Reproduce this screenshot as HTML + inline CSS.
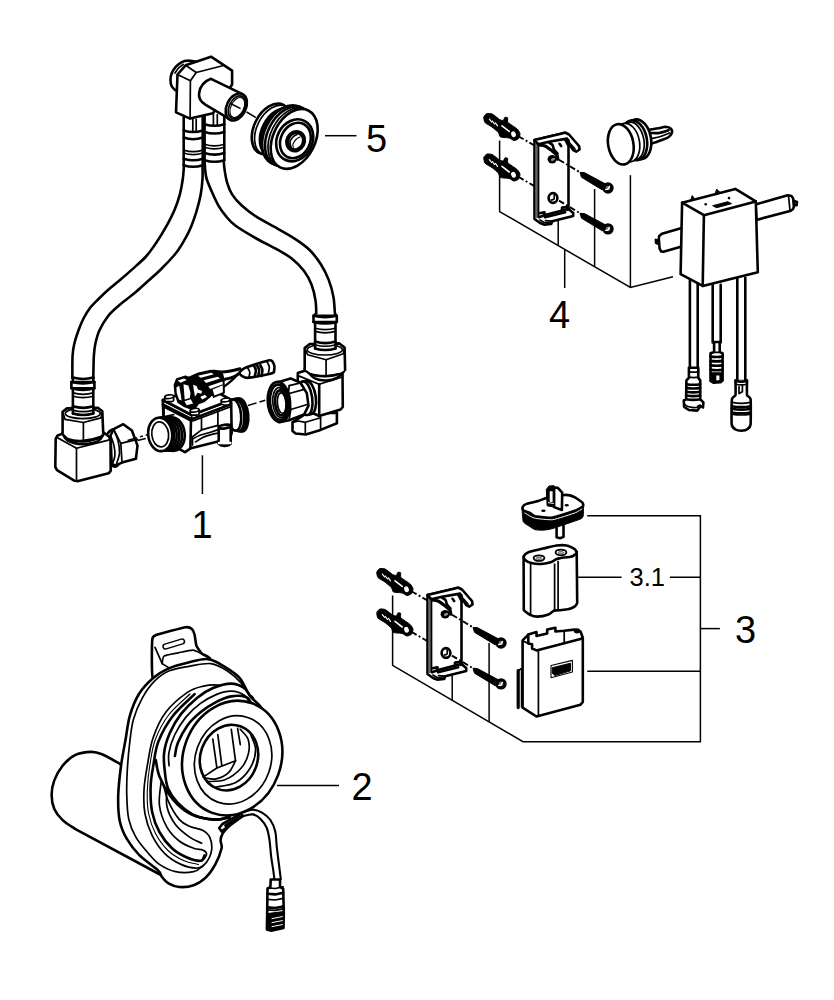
<!DOCTYPE html>
<html><head><meta charset="utf-8"><title>Exploded parts drawing</title>
<style>
html,body{margin:0;padding:0;background:#fff;}
svg{display:block;}
.k{fill:none;stroke:#000;stroke-width:1.7;stroke-linecap:round;stroke-linejoin:round;}
.w{fill:#fff;stroke:#000;stroke-width:1.7;stroke-linecap:round;stroke-linejoin:round;}
.t{fill:none;stroke:#000;stroke-width:1.1;stroke-linecap:round;stroke-linejoin:round;}
.tw{fill:#fff;stroke:#000;stroke-width:1.1;stroke-linecap:round;stroke-linejoin:round;}
.l{fill:none;stroke:#000;stroke-width:1.5;stroke-linecap:butt;}
.b{fill:#000;stroke:#000;stroke-width:1;stroke-linejoin:round;}
.h{fill:none;stroke:#000;stroke-width:2.6;stroke-linecap:round;stroke-linejoin:round;}
.hw{fill:#fff;stroke:#000;stroke-width:2.6;stroke-linecap:round;stroke-linejoin:round;}
.d{fill:none;stroke:#000;stroke-width:1.3;stroke-dasharray:9 3 2 3;}
text{font-family:"Liberation Sans",Arial,sans-serif;fill:#000;}
</style></head><body>
<svg width="834" height="1000" viewBox="0 0 834 1000">
<rect x="0" y="0" width="834" height="1000" fill="#fff"/>
<!-- 00_labels.svg -->
<g id="labels">
<text x="366" y="151.5" font-size="38">5</text>
<text x="549" y="328" font-size="38">4</text>
<text x="191.5" y="538" font-size="38">1</text>
<text x="351.5" y="799.5" font-size="38">2</text>
<text x="735" y="643" font-size="38">3</text>
<text x="629.5" y="586" font-size="25.5">3.1</text>
<path class="l" d="M325 135.7H356.5"/>
<path class="l" d="M202.4 455.3V494"/>
<path class="l" d="M277 785.6H339"/>
<!-- group 4 leaders -->
<path class="l" d="M499.6 140.5V211.6L630.4 287.5L673 276.7"/>
<path class="l" d="M558.2 220.5V245.6"/>
<path class="l" d="M594.6 189V266.8"/>
<path class="l" d="M630.4 175.2V287.5"/>
<path class="l" d="M564.7 249.5V288"/>
<!-- group 3 leaders -->
<path class="l" d="M392.6 595.5V665.4L523 741.7H700.4V515.8H587.2"/>
<path class="l" d="M452.2 675.5V700.5"/>
<path class="l" d="M489.1 643V721.8"/>
<path class="l" d="M578.2 577.2H621.6M669.9 577.2H700.4"/>
<path class="l" d="M587.2 671.2H700.4"/>
<path class="l" d="M700.4 628.6H719.9"/>
</g>

<!-- 10_elbow.py -->
<g>
<path class="h" d="M223.6 160C223.8 161.8 224.1 166.8 224.7 170.6C225.3 174.4 225.9 178.6 227.1 182.6C228.3 186.6 229.7 190.6 232.1 194.4C234.5 198.2 237.6 201.7 241.5 205.3C245.4 208.9 249.5 212.3 255.5 216.2C261.5 220.1 270.6 224.7 277.4 228.6C284.2 232.5 290.7 235.9 296.1 239.6C301.6 243.2 306 246.3 310.1 250.5C314.2 254.7 317.9 259.6 321 264.5C324.1 269.4 326.7 274.7 328.8 280.1C330.9 285.6 332.5 291.3 333.5 297.2C334.5 303.1 334.8 312.4 335 315.4"/>
<path class="h" d="M204.6 160C204.7 161.7 204.8 166.8 205.2 170C205.5 173.2 205.6 175.5 206.7 179C207.8 182.5 209.6 186.6 211.5 191C213.4 195.4 215.9 201.2 218.3 205.4C220.7 209.6 223.1 212.8 225.9 216.2C228.7 219.5 230.4 221.9 235.3 225.5C240.2 229.1 248.5 234 255.5 238C262.5 242 271.4 246.3 277.4 249.7C283.4 253.1 287 254.8 291.4 258.3C295.8 261.8 300.5 266.3 303.9 270.7C307.3 275.1 309.7 279.9 311.6 284.8C313.5 289.8 314.7 295.3 315.5 300.4C316.3 305.5 316.2 312.9 316.3 315.4"/>
<path class="h" d="M184 165C183.8 167.3 183.5 174.1 182.8 179C182.1 183.9 181.2 189.4 179.8 194.6C178.4 199.8 176.7 204.8 174.4 210.2C172.1 215.6 169 221.5 166 226.9C163 232.3 159.7 237.6 156.4 242.5C153.1 247.4 150.1 252 146 256.5C141.9 261 136.2 265.7 131.9 269.6C127.6 273.5 124 276.6 120 280C116 283.4 111.6 286.8 108 290C104.4 293.2 101.5 296 98.5 299C95.5 302 92.5 304.8 90 308C87.5 311.2 85.4 314.8 83.5 318.5C81.6 322.2 80.1 325.9 78.6 330C77.1 334.1 75.5 338.8 74.5 343C73.5 347.2 72.9 349.5 72.6 355.3C72.2 361.1 72.4 374.2 72.4 378"/>
<path class="h" d="M202.5 165C202.5 167.3 202.8 174.1 202.5 179C202.2 183.9 201.7 189.2 200.7 194.6C199.7 200 198.3 205.6 196.5 211.4C194.7 217.2 192.5 223.7 190 229.3C187.5 234.9 184.2 240.6 181.6 244.9C179 249.2 178 250.8 174.4 255C170.8 259.2 164.4 265.9 160 270.2C155.6 274.5 151.9 277.5 148 281C144.1 284.5 140.2 288.2 136.7 291.2C133.2 294.2 130.2 296.4 127 299C123.8 301.6 120.8 303.8 117.6 306.7C114.4 309.6 111 312.4 108 316.3C105 320.2 101.7 325.6 99.6 330C97.5 334.4 96.5 338.8 95.5 343C94.5 347.2 94.3 349.5 93.9 355.3C93.5 361.1 93.4 374.2 93.3 378"/>
<path class="w" d="M183.7 117.5 L183.7 165.2 L202.7 165.2 L202.7 117.5Z" style="stroke:none"/>
<path class="h" d="M183.7 117.5V165.2M202.7 117.5V165.2"/>
<path class="h" d="M183.7 130.4Q193.2 133.6 202.7 130.4"/>
<path class="h" d="M183.7 137.6Q193.2 140.8 202.7 137.6"/>
<path class="k" d="M183.7 150.1Q193.2 153.3 202.7 150.1"/>
<path class="k" d="M183.7 153Q193.2 156.2 202.7 153"/>
<path class="h" d="M183.7 158.7Q193.2 161.9 202.7 158.7"/>
<path class="h" d="M183.7 165.2Q193.2 168.4 202.7 165.2"/>
<path class="k" d="M192.8 119.4V131"/>
<path class="k" d="M196.2 119.4V131"/>
<path class="w" d="M204.6 113 L204.6 160.2 L224.3 160.2 L224.3 113Z" style="stroke:none"/>
<path class="h" d="M204.6 113V160.2M224.3 113V160.2"/>
<path class="h" d="M204.6 124.2Q214.4 127.4 224.3 124.2"/>
<path class="h" d="M204.6 131.9Q214.4 135.1 224.3 131.9"/>
<path class="k" d="M204.6 144.3Q214.4 147.5 224.3 144.3"/>
<path class="k" d="M204.6 147.2Q214.4 150.4 224.3 147.2"/>
<path class="h" d="M204.6 153Q214.4 156.2 224.3 153"/>
<path class="h" d="M204.6 160.2Q214.4 163.4 224.3 160.2"/>
<path class="k" d="M213.4 114.6V125"/>
<path class="k" d="M217.3 114.6V125"/>
<path class="h" d="M195.7 61.5C194.4 61.4 190.1 60.5 187.7 60.6C185.4 60.6 183.8 61 181.8 62.1C179.8 63.1 177.4 65 175.7 66.9C174 68.8 172.5 71.2 171.6 73.4C170.7 75.6 170.5 77.8 170.5 79.9C170.5 82 170.8 84.3 171.6 86C172.4 87.7 174.6 89.5 175.2 90.2"/>
<path class="k" d="M183.2 64.4C182.4 65 179.8 66.8 178.4 68.2C177.1 69.7 175.6 72.2 175 73"/>
<path class="hw" d="M185.6 65.3 L211 56.7 L232.1 70.6 L232.1 84.5 L213 113.3 L190.1 118.6 L176 112.4 L177.5 74.5Z"/>
<path class="k" d="M185.6 65.3 L196.2 72.5 L222.6 65.8"/>
<path class="k" d="M177.5 74.5 L190.4 80.7 L196.2 72.5"/>
<path class="k" d="M190.4 80.7 L190.1 118.6"/>
<path class="hw" d="M211 78.8L241.5 93.6L228.5 118.3L205.3 104.7Q198.1 99.9 199.1 93.2Q200.5 82.6 211 78.8Z"/>
<ellipse class="hw" cx="236.3" cy="107" rx="9.6" ry="14.2" transform="rotate(26.4 236.3 107)"/>
<ellipse class="k" cx="236.8" cy="107.2" rx="7.6" ry="12" transform="rotate(26.4 236.8 107.2)"/>
<ellipse class="t" cx="237.3" cy="107.5" rx="6.4" ry="10.6" transform="rotate(26.4 237.3 107.5)"/>
<path class="l" d="M230.5 103.5L240.6 108.6M246.6 112L255.9 117.6"/>
</g>
<!-- 11_nut5.py -->
<g>
<ellipse class="hw" cx="271.5" cy="129" rx="17.5" ry="27" transform="rotate(26.4 271.5 129)"/>
<ellipse class="k" cx="274" cy="130.2" rx="17.2" ry="26.6" transform="rotate(26.4 274 130.2)"/>
<ellipse class="hw" cx="278" cy="132" rx="16" ry="25" transform="rotate(26.4 278 132)"/>
<ellipse class="hw" cx="280.5" cy="133" rx="17" ry="27" transform="rotate(26.4 280.5 133)"/>
<ellipse class="hw" cx="285.5" cy="135" rx="21" ry="31.5" transform="rotate(26.4 285.5 135)"/>
<ellipse class="hw" cx="288.5" cy="136.3" rx="21" ry="31.7" transform="rotate(26.4 288.5 136.3)"/>
<ellipse class="k" cx="291.5" cy="137.6" rx="21" ry="31.7" transform="rotate(26.4 291.5 137.6)"/>
<ellipse class="hw" cx="294.2" cy="138.9" rx="21" ry="31.7" transform="rotate(26.4 294.2 138.9)"/>
<ellipse class="h" cx="294.7" cy="140.3" rx="17.7" ry="21.7" transform="rotate(26.4 294.7 140.3)"/>
<ellipse class="h" cx="295.4" cy="140.5" rx="14.6" ry="18.4" transform="rotate(26.4 295.4 140.5)"/>
<ellipse cx="295.6" cy="141.2" rx="8.2" ry="9.4" transform="rotate(26.4 295.6 141.2)" fill="#fff" stroke="#000" stroke-width="4.2"/>
<path class="k" d="M291 147C290.8 146.2 289.7 143.7 290 142C290.3 140.3 291.8 138.2 293 137C294.2 135.8 296.3 134.9 297 134.5"/>
<path class="t" d="M293.5 148.5C293.4 147.8 292.6 145.5 293 144C293.4 142.5 294.8 140.7 296 139.5C297.2 138.3 299.3 137.4 300 137"/>
</g>
<!-- 20_lelbow.py -->
<g>
<path class="hw" d="M107.9 433C106.4 434.8 104.7 437.2 104.2 440.5C103.6 443.9 103.8 449.1 104.8 453.1C105.9 457.1 108.4 462.4 110.5 464.5C112.6 466.6 115.7 467.6 117.4 465.7C119.1 463.8 120.2 457.3 120.5 453.1C120.9 448.9 120.4 444.4 119.3 440.5C118.1 436.7 115.5 431.1 113.6 429.8C111.7 428.6 109.5 431.2 107.9 433Z"/>
<path class="hw" d="M113.6 429.2 L123.3 424.2 L131.9 430.5 L137.5 445.6 L135.9 458.8 L122 462.6 L115.5 465.7 L111.7 463.8 L110.5 435.5Z"/>
<path class="k" d="M113.6 429.2 L120.8 443.3 L137.5 439.3"/>
<path class="k" d="M120.8 443.3 L122 462.6"/>
<path class="k" d="M113.6 429.8C114.3 431.6 117 436.7 118 440.5C119 444.4 119.8 449 119.5 453.1C119.2 457.2 116.7 463.1 116.1 465.1"/>
<path class="k" d="M110.5 435.5C111.1 437.2 113.3 442.2 114 445.6C114.7 448.9 115.1 452.6 114.9 455.6C114.6 458.7 112.8 462.5 112.4 463.8"/>
<path class="hw" d="M55.7 438.6 L57.6 435.5 L62.6 433.6 L104.2 433 L109.2 436.8 L110.5 440.5 L110.7 470.8 L108.6 473.3 L78.4 481.1 L74.6 480.8 L57 470.1 L55.3 467Z"/>
<path class="k" d="M57 437.4 L76.5 448.3 L109.5 439.9"/>
<path class="k" d="M76.5 448.3 L76.5 480.6"/>
<path class="h" d="M62.6 433.6C63.5 434.8 64.3 438.8 67.7 440.5C71 442.3 77.7 444 82.8 444.1C87.8 444.2 94.4 442.9 97.9 441.2C101.4 439.4 102.9 434.9 103.9 433.6"/>
<path class="k" d="M65.1 435.5C66 436.2 67.2 438.5 70.2 439.5C73.1 440.6 78.4 441.8 82.8 441.8C87.2 441.8 93.5 440.4 96.6 439.3C99.8 438.1 100.8 435.6 101.7 434.9"/>
<path class="hw" d="M62.6 433C63.6 434 64.8 438 68.3 439.3C71.8 440.6 78 441.2 83.4 440.8C88.7 440.4 97.1 438.4 100.4 437C103.7 435.6 102.7 433.1 103.2 432.4"/>
<path class="w" d="M62.6 411.8 L67 408.4 L97.9 407.8 L102.3 411.3 L103.2 432.4 L100.4 435.5 L83.4 438.6 L68.3 437.4 L62.6 433Z" style="stroke:none"/>
<path class="h" d="M62.6 433 L62.6 411.8 L67 408.4 L97.9 407.8 L102.3 411.3 L103.2 432.4"/>
<path class="k" d="M62.6 411.8 L65.1 419.4 L83.4 422.5 L101 417.9 L102.3 411.3"/>
<path class="k" d="M83.4 422.5 L83.4 440.5"/>
<ellipse class="k" cx="82.8" cy="413.5" rx="17.5" ry="5.2"/>
<path class="w" d="M72.9 377.6 L72.9 413.5 L93.3 413.5 L93.3 377.6Z" style="stroke:none"/>
<path class="h" d="M72.9 377.6 L72.9 413.5M93.3 413.5 L93.3 377.6"/>
<path class="h" d="M72.9 413.5Q83.1 416.6 93.3 413.5"/>
<path class="k" d="M72.9 410.1Q83.1 413.2 93.3 410.1"/>
<path class="h" d="M72.9 406.3Q83.1 409.4 93.3 406.3"/>
<path class="k" d="M72.9 396.2Q83.1 399 93.3 396.2"/>
<path class="k" d="M72.9 392.9Q83.1 395.7 93.3 392.9"/>
<path class="hw" d="M71.4 382 L71.4 388.3 L94.4 388.3 L94.4 382Z"/>
<path class="h" d="M71.4 388.3Q82.9 391.4 94.4 388.3"/>
<path class="h" d="M71.4 382Q82.9 384.8 94.4 382"/>
<path class="h" d="M72.9 377.6Q83.1 380.4 93.3 377.6"/>
<path class="l" d="M137.5 440.5L145.7 438.4"/>
</g>
<!-- 30_valve.py -->
<g>
<path class="l" d="M127.5 440.5 L160 431" stroke-dasharray="10 3 3 3"/>
<path class="l" d="M248 405.5 L271 398.5" stroke-dasharray="9 3 6 3"/>
<ellipse class="hw" cx="240.7" cy="415" rx="7.5" ry="16.5" transform="rotate(-6 240.7 415)"/>
<ellipse class="hw" cx="238.9" cy="415" rx="7.5" ry="16.5" transform="rotate(-6 238.9 415)"/>
<ellipse class="hw" cx="237.1" cy="415" rx="7.2" ry="16.2" transform="rotate(-6 237.1 415)"/>
<ellipse class="hw" cx="234.4" cy="415" rx="6.7" ry="15.7" transform="rotate(-6 234.4 415)"/>
<path class="hw" d="M162.8 400 L191.7 415 L231.1 400 L231.7 432.9 L229.9 438.9 L217.9 441.6 L191 448.2 L185 452.1 L179.3 449.1 L179.3 444.9 L164 432.9Z"/>
<path class="hw" d="M162.8 400 L205.9 385.7 L231.1 400 L191.7 415Z"/>
<path class="h" d="M162.8 404.5 L191.7 419.1 L231.1 404.2"/>
<path class="k" d="M191.7 415 L191.7 419.1"/>
<path class="h" d="M191 419.1 L190.4 447.9"/>
<path class="k" d="M201.5 416.8 L201.5 429.9 L192.5 436.7 L192.5 444.9"/>
<path class="k" d="M201.5 429.9 L217.9 425.4 L217.9 410.8"/>
<path class="k" d="M192.8 438.9C194 438.3 197 436.3 200 435.2C202.9 434.1 207.4 433.1 210.4 432.2C213.4 431.3 216.7 430.3 217.9 429.9"/>
<path class="k" d="M195.5 441.9C196.7 441.2 200.2 438.7 202.9 437.4C205.7 436.2 209.4 435.1 211.9 434.4C214.4 433.7 216.9 433.4 217.9 433.2"/>
<path class="k" d="M164 405.2 L164 432.9"/>
<path class="h" d="M164 406.7 L190.2 420.2"/>
<path class="k" d="M192.8 420.9 L230.7 406.7"/>
<path class="hw" d="M218.7 443.4C219.2 443.8 220.2 445.2 221.7 445.5C223.2 445.9 226.2 445.9 227.7 445.5C229.2 445.2 230.2 443.8 230.7 443.4"/>
<path class="hw" d="M218.7 426.6 L218.7 443.4 L230.7 443.4 L230.7 426.6"/>
<path class="w" d="M219 443.1 L230.4 443.1" style="stroke:#fff;stroke-width:2.5"/>
<ellipse class="hw" cx="224.7" cy="426.6" rx="6" ry="1.8" transform="rotate(-8 224.7 426.6)"/>
<path class="w" d="M164.8 396.7v3.2a4.4 1.8 0 0 0 8.8 0v-3.2"/>
<ellipse class="w" cx="169.2" cy="396.7" rx="4.4" ry="1.8" transform="rotate(-8 169.2 396.7)"/>
<path class="w" d="M190.3 410.2v3.2a4.4 1.8 0 0 0 8.8 0v-3.2"/>
<ellipse class="w" cx="194.7" cy="410.2" rx="4.4" ry="1.8" transform="rotate(-8 194.7 410.2)"/>
<path class="w" d="M221.3 400v3.2a4.4 1.8 0 0 0 8.8 0v-3.2"/>
<ellipse class="w" cx="225.7" cy="400" rx="4.4" ry="1.8" transform="rotate(-8 225.7 400)"/>
<path class="w" d="M160.2 417.6 L172.7 415 L172.7 450.9 L162.5 451.2Z" style="stroke:none"/>
<ellipse class="hw" cx="172.7" cy="434.1" rx="12" ry="16.8" transform="rotate(-6 172.7 434.1)"/>
<ellipse class="hw" cx="170.3" cy="434.1" rx="11.7" ry="16.5" transform="rotate(-6 170.3 434.1)"/>
<ellipse class="hw" cx="167.6" cy="434.1" rx="11.7" ry="16.5" transform="rotate(-6 167.6 434.1)"/>
<ellipse class="hw" cx="165" cy="434.1" rx="11.7" ry="16.5" transform="rotate(-6 165 434.1)"/>
<ellipse class="hw" cx="162.5" cy="434.1" rx="11.7" ry="16.5" transform="rotate(-6 162.5 434.1)"/>
<ellipse class="hw" cx="160.2" cy="434.4" rx="12" ry="16.8" transform="rotate(-6 160.2 434.4)"/>
<ellipse class="k" cx="160.2" cy="434.4" rx="8.4" ry="12.6" transform="rotate(-6 160.2 434.4)"/>
<path class="k" d="M160.2 417.6 L173.7 414.7"/>
<path class="k" d="M162.5 451.2 L175.2 450"/>
<path class="b" d="M174.4 385.1 L176.8 378.9 L185.4 376.3 L188.8 377.5 L198.4 373.2 L210.8 370.6 L222.4 374.1 L223.8 379.4 L224.1 392.8 L213.7 397.1 L212.3 393.8 L209.9 396.7 L204.1 401.5 L198.4 403.4 L195.5 407.2 L191.7 409.1 L184 406.2 L178.2 402.4 L175.3 393.8Z" style="stroke-width:1.6"/>
<path class="w" d="M197.9 375.7 L211.3 372.7 L213.9 374.2 L200.8 377.7Z" style="stroke:none"/>
<path class="w" d="M203.6 380.3 L217.6 376.7 L220.2 378.6 L206 382.9Z" style="stroke:none"/>
<path class="w" d="M208.4 386.3 L222.4 381.5 L222.8 384.2 L210.1 389Z" style="stroke:none"/>
<path class="w" d="M212.6 389.5 L222.8 385.3 L222.8 392.3 L214.5 395.5Z" style="stroke:none"/>
<path class="w" d="M177.7 380.5 L184 378.4 L186.7 380 L180.6 382.8Z" style="stroke:none"/>
<path class="w" d="M183.5 384.2 L188.3 385.6 L190.5 392.8 L189.9 398.1 L184.7 399.5 L184 390.9Z" style="stroke:none"/>
<path class="w" d="M184.5 401.3 L190.7 399.3 L193.1 403.4 L186.7 405.3Z" style="stroke:none"/>
<path class="w" d="M176.5 387.3 L179.2 385.7 L180.6 393.8 L181.6 400.5 L179 399.5 L176.7 392.8Z" style="stroke:none"/>
<path class="w" d="M193.1 384.7 L196.6 385.9 L198 389.5 L202.2 391.1 L201.2 393.8 L197.6 392.8 L195 396.7 L193.8 390.1Z" style="stroke:none"/>
<path class="w" d="M200.3 396.7 L205.1 394.7 L207 397.1 L202.2 399.5Z" style="stroke:none"/>
<path class="k" d="M213.7 371.1C215 371.3 218.8 371.9 221.4 371.9C223.9 371.9 226 371.8 229.1 371.3C232.2 370.8 238.2 369.3 240 368.8" style="stroke-width:3"/>
<path class="k" d="M223.8 379.4C224.7 379.2 227.2 378.9 229.1 378.4C230.9 377.9 233 377.3 234.8 376.3C236.6 375.3 239.1 373.1 240 372.5" style="stroke-width:3"/>
<path class="k" d="M224.1 386.6C224.9 385.9 227.1 384.4 229.1 382.7C231 381.1 234 378.2 235.8 376.5C237.6 374.8 239.3 373.2 240 372.5" style="stroke-width:2.4"/>
<path class="hw" d="M239.7 372.2C240.3 371.2 243.7 368.4 247.2 367C250.7 365.6 266.6 360.6 269.7 360.2C272.8 359.9 273.2 362.8 273.8 364C274.3 365.1 274.4 368.9 274.2 370C274 371.1 274.9 372.4 272 373.3C269 374.2 252.2 377.5 248.7 377.8C245.2 378.1 243 376.6 242 376C240.9 375.3 239.1 373.3 239.7 372.2Z"/>
<path class="k" d="M247.2 367C247.6 367.9 249.5 370.4 249.8 372.2C250 374 248.9 376.8 248.7 377.8"/>
<path class="h" d="M253.7 365.2C254 366 255.6 368.2 255.8 370C256 371.8 255 375 254.9 376"/>
<path class="h" d="M257 365.2C257.3 366 258.9 368.2 259.1 370C259.3 371.8 258.3 375 258.2 376"/>
<path class="h" d="M260.3 365.2C260.6 366 262.2 368.2 262.4 370C262.6 371.8 261.6 375 261.5 376"/>
<path class="k" d="M266.7 361C267.1 362 269 364.8 269.3 367C269.5 369.1 268.4 372.7 268.2 373.9"/>
</g>
<!-- 40_relbow.py -->
<g>
<path class="hw" d="M292.5 422.3 L292.5 431 L295.6 433.5 L305.8 434.5 L320.6 429.9 L336.9 423.3 L336.9 412.6 L305.8 413.6Z"/>
<path class="k" d="M292.5 422.3 L298.6 421 L305.3 422.3 L320.6 417.7"/>
<path class="k" d="M305.3 422.3 L305.3 434"/>
<path class="k" d="M320.6 417.7 L320.6 429.9"/>
<path class="hw" d="M297.8 373 L304.7 370.7 L342.5 373.6 L342.8 407 L340.6 409.5 L319.2 416 L310.4 412 L297.8 380.5Z"/>
<path class="k" d="M299.3 376.1 L319.2 384.3 L342.5 377"/>
<path class="h" d="M319.2 384.3 L319.2 416"/>
<ellipse class="hw" cx="308.5" cy="397.5" rx="7.3" ry="17" transform="rotate(-8 308.5 397.5)"/>
<ellipse class="hw" cx="305.3" cy="398.2" rx="6.9" ry="17" transform="rotate(-8 305.3 398.2)"/>
<path class="hw" d="M278.9 382 L290.5 378.4 L300.5 382.8 L306.8 393.1 L308.5 405.7 L304.1 414.5 L289 420.2 L278.9 422.1Z"/>
<path class="k" d="M288.3 393.8 L303.4 389.6"/>
<path class="k" d="M289.2 385.6 L300.5 382.8"/>
<path class="k" d="M290.8 409.5 L307.2 404.5"/>
<path class="k" d="M288.3 393.8 L290.8 409.5 L289 420.2"/>
<path class="k" d="M289.2 385.6 L288.3 393.8"/>
<ellipse class="hw" cx="278.9" cy="401.9" rx="11.1" ry="20.1" transform="rotate(-5 278.9 401.9)"/>
<ellipse class="h" cx="279.1" cy="402.2" rx="9.1" ry="17.6" transform="rotate(-5 279.1 402.2)"/>
<ellipse class="k" cx="280.1" cy="402.6" rx="7.3" ry="15.1" transform="rotate(-5 280.1 402.6)"/>
<ellipse class="h" cx="280.9" cy="402.9" rx="5.8" ry="12.6" transform="rotate(-5 280.9 402.9)"/>
<ellipse class="k" cx="281.7" cy="403.2" rx="4.3" ry="10.3" transform="rotate(-5 281.7 403.2)"/>
<path class="hw" d="M308.5 372.4C309.6 373.4 312.5 377.3 315.4 378.6C318.3 380 322.5 380.6 326.1 380.5C329.7 380.4 333.9 379.5 336.8 378C339.7 376.6 342.6 372.8 343.7 371.7"/>
<path class="hw" d="M304.7 368.6C305.6 369.5 306.8 372.7 310.4 374C313.9 375.3 321.1 376.2 326.1 376.1C331.1 376.1 337.4 374.7 340.6 373.6C343.7 372.6 344.2 370.5 345 369.8"/>
<path class="w" d="M304.7 348.1 L309.7 344 L339.3 343.4 L344.6 347.6 L345.1 369.8 L340.6 372.4 L326.1 374.5 L310.4 372.7 L304.7 369Z" style="stroke:none"/>
<path class="h" d="M304.7 369 L304.7 348.1 L309.7 344 L339.3 343.4 L344.6 347.6 L345.1 369.8"/>
<path class="k" d="M304.7 348.1 L307.6 354.7 L326.1 359.8 L343.3 353.8 L344.6 347.6"/>
<path class="k" d="M326.1 359.8 L326.1 375.8"/>
<ellipse class="k" cx="324.8" cy="349.7" rx="17.6" ry="5.3"/>
<path class="w" d="M315.1 314.4 L315.1 348.4 L335.5 348.4 L335.5 314.4Z" style="stroke:none"/>
<path class="h" d="M315.1 314.4 L315.1 348.4M335.5 348.4 L335.5 314.4"/>
<path class="h" d="M315.1 348.4Q325.3 351.6 335.5 348.4"/>
<path class="k" d="M315.1 344.7Q325.3 347.8 335.5 344.7"/>
<path class="h" d="M315.1 341.5Q325.3 344.7 335.5 341.5"/>
<path class="k" d="M315.1 331.4Q325.3 334.2 335.5 331.4"/>
<path class="k" d="M315.1 328.3Q325.3 331.1 335.5 328.3"/>
<path class="hw" d="M313.5 315.7 L313.5 322 L336.8 322 L336.8 315.7Z"/>
<path class="h" d="M313.5 322Q325.2 325.1 336.8 322"/>
<path class="h" d="M313.5 315.7Q325.2 318.5 336.8 315.7"/>
</g>
<!-- 50_bracket.py -->
<g>
<path class="b" d="M483.8 117C484 116.1 486.1 113.9 486.9 113.6C487.8 113.3 491.1 113.5 492.3 114.1C493.6 114.7 498.4 118.8 499.5 119.5C500.6 120.1 502.7 120.6 503.3 120.4C503.8 120.1 504.5 117.6 504.9 117.3C505.4 117.1 507.4 117.3 507.7 117.8C508 118.3 507 121.3 507.9 122.4C508.9 123.5 515.9 127.8 517.1 128.9C518.3 130.1 519.9 132.7 520 133.7C520.2 134.7 519 138.1 518.4 138.7C517.8 139.4 514.9 140.6 514 140.5C513.1 140.4 510.2 138.3 509.2 138C508.2 137.7 504.8 137.6 503.9 137.5C503 137.4 500.7 137.2 500.1 136.7C499.6 136.2 499.1 133.4 498.3 132.4C497.4 131.5 493.3 128 492 127C490.6 126 485.9 123.6 485 122.6C484.2 121.6 483.6 117.9 483.8 117Z"/>
<path class="k" d="M489.4 119.1 L491.6 122" style="stroke:#fff;stroke-width:1.2"/>
<path class="k" d="M492.3 121 L494.5 123.9" style="stroke:#fff;stroke-width:1.2"/>
<path class="k" d="M495.4 122.9 L497.5 125.8" style="stroke:#fff;stroke-width:1.2"/>
<path class="k" d="M502 125.8 L509.2 131.4" style="stroke:#fff;stroke-width:1.6"/>
<ellipse cx="513.5" cy="134.2" rx="2.3" ry="3" fill="#fff" transform="rotate(-20 513.5 134.2)"/>
<path class="k" d="M518.4 136.2 L534.4 145.5" style="stroke-width:1.9;stroke-dasharray:6 2.4 2 2.4;stroke-linecap:butt"/>
<path class="b" d="M483.8 157.5C484 156.6 486.1 154.4 486.9 154.1C487.8 153.8 491.1 154 492.3 154.6C493.6 155.2 498.4 159.4 499.5 160C500.6 160.6 502.7 161.1 503.3 160.9C503.8 160.7 504.5 158.1 504.9 157.9C505.4 157.6 507.4 157.9 507.7 158.4C508 158.9 507 161.8 507.9 162.9C508.9 164 515.9 168.3 517.1 169.5C518.3 170.6 519.9 173.3 520 174.2C520.2 175.2 519 178.6 518.4 179.3C517.8 180 514.9 181.1 514 181C513.1 181 510.2 178.8 509.2 178.5C508.2 178.2 504.8 178.1 503.9 178C503 177.9 500.7 177.8 500.1 177.3C499.6 176.8 499.1 174 498.3 173C497.4 172 493.3 168.6 492 167.6C490.6 166.6 485.9 164.2 485 163.2C484.2 162.2 483.6 158.4 483.8 157.5Z"/>
<path class="k" d="M489.4 159.6 L491.6 162.5" style="stroke:#fff;stroke-width:1.2"/>
<path class="k" d="M492.3 161.5 L494.5 164.4" style="stroke:#fff;stroke-width:1.2"/>
<path class="k" d="M495.4 163.4 L497.5 166.3" style="stroke:#fff;stroke-width:1.2"/>
<path class="k" d="M502 166.3 L509.2 172" style="stroke:#fff;stroke-width:1.6"/>
<ellipse cx="513.5" cy="174.7" rx="2.3" ry="3" fill="#fff" transform="rotate(-20 513.5 174.7)"/>
<path class="k" d="M518.4 176.8 L534.4 186.1" style="stroke-width:1.9;stroke-dasharray:6 2.4 2 2.4;stroke-linecap:butt"/>
<path class="hw" d="M534.5 140 L562 133.5 L568.5 146 L568.5 209 L573.2 213 L573.2 216 L552.2 221.2 L551.2 224 L544 224.6 L540 223 L534.5 219Z"/>
<path class="b" d="M535.4 141.8 L538.1 144 L538.1 217.2 L535.4 218.8Z" style="fill:#666;stroke:none"/>
<path class="k" d="M538.5 144 L538.5 217.2"/>
<path class="hw" d="M534.5 140 L562 133.5 L565 132.5 L569 134.5 L579 146 L579.6 149.5 L576.2 151.6 L573.2 150 L568.2 142.2 L567 138.6 L549 141.8 L538.2 144.2Z"/>
<path class="k" d="M567 138.6 L569 140.2 L569 146.5"/>
<path class="k" d="M568.2 141.2 L575 149"/>
<path class="k" d="M540 145.2C540.8 145.3 543 145.1 545 146C547 146.9 550 149.3 552 150.8C554 152.3 555.8 153.6 556.8 155C557.8 156.4 557.6 158.5 557.8 159.2" style="stroke-width:3.2"/>
<path class="h" d="M549 142.6C549.6 143 551.7 143.8 552.5 145C553.3 146.2 553.2 148.1 554 149.5C554.8 150.9 556.9 152.8 557.5 153.5"/>
<path class="h" d="M559.5 143.8 L561.2 146"/>
<ellipse cx="552.2" cy="159.2" rx="4.6" ry="4.2" fill="#000"/>
<ellipse cx="553" cy="159.4" rx="2.2" ry="1.3" fill="#999" transform="rotate(-25 553 159.4)"/>
<ellipse cx="553" cy="198" rx="4.4" ry="4.9" fill="#fff" stroke="#000" stroke-width="2.6"/>
<path class="k" d="M551.2 200C551.7 199.8 553.5 199.8 554 199C554.5 198.2 554.2 195.8 554.2 195.2"/>
<path class="h" d="M539 217.2 L545 215 L567 209.2 L569 209.2"/>
<path class="h" d="M545 217.2 L565.2 212.2"/>
<path class="k" d="M545.5 220.5 L551.8 221.2"/>
<path class="h" d="M539.5 213.2 L544.5 212.2 L544.5 215.6"/>
<path class="h" d="M562 210.8 L562 207.6 L567 207 L567.6 210"/>
<path class="k" d="M540 220 L544 222.5 L550.8 222"/>
<path class="k" d="M558.9 159.7 L580.9 172.9" style="stroke-width:1.9;stroke-dasharray:6 2.4 2 2.4;stroke-linecap:butt"/>
<path class="b" d="M580 172.4 L584.3 172.6 L604.8 183.6 L602.3 189.9 L581.5 177.3Z"/>
<circle cx="608" cy="188" r="4" fill="#777" stroke="#000" stroke-width="3.4"/>
<path class="k" d="M605.7 189.5C606.1 189.4 607.4 189.5 608 189C608.6 188.5 609.2 186.9 609.5 186.5" style="stroke:#fff;stroke-width:1.3"/>
<path class="k" d="M558.9 200.6 L580.9 213.8" style="stroke-width:1.9;stroke-dasharray:6 2.4 2 2.4;stroke-linecap:butt"/>
<path class="b" d="M580 213.3 L584.3 213.5 L604.8 224.5 L602.3 230.8 L581.5 218.2Z"/>
<circle cx="608" cy="228.9" r="4" fill="#777" stroke="#000" stroke-width="3.4"/>
<path class="k" d="M605.7 230.4C606.1 230.3 607.4 230.4 608 229.9C608.6 229.4 609.2 227.8 609.5 227.4" style="stroke:#fff;stroke-width:1.3"/>
<path class="b" d="M376.8 572C377 571.1 379.1 568.9 379.9 568.6C380.8 568.3 384.1 568.5 385.3 569.1C386.6 569.7 391.4 573.8 392.5 574.5C393.6 575.1 395.7 575.6 396.3 575.4C396.8 575.1 397.5 572.6 397.9 572.3C398.4 572.1 400.4 572.3 400.7 572.8C401 573.3 400 576.3 400.9 577.4C401.9 578.5 408.9 582.8 410.1 583.9C411.3 585.1 412.9 587.7 413 588.7C413.2 589.7 412 593.1 411.4 593.7C410.8 594.4 407.9 595.6 407 595.5C406.1 595.4 403.2 593.3 402.2 593C401.2 592.7 397.8 592.6 396.9 592.5C396 592.4 393.7 592.2 393.1 591.7C392.6 591.2 392.1 588.4 391.3 587.4C390.4 586.5 386.3 583 385 582C383.6 581 378.9 578.6 378 577.6C377.2 576.6 376.6 572.9 376.8 572Z"/>
<path class="k" d="M382.4 574.1 L384.6 577" style="stroke:#fff;stroke-width:1.2"/>
<path class="k" d="M385.3 576 L387.5 578.9" style="stroke:#fff;stroke-width:1.2"/>
<path class="k" d="M388.4 577.9 L390.5 580.8" style="stroke:#fff;stroke-width:1.2"/>
<path class="k" d="M395 580.8 L402.2 586.4" style="stroke:#fff;stroke-width:1.6"/>
<ellipse cx="406.5" cy="589.2" rx="2.3" ry="3" fill="#fff" transform="rotate(-20 406.5 589.2)"/>
<path class="k" d="M411.4 591.2 L427.4 600.5" style="stroke-width:1.9;stroke-dasharray:6 2.4 2 2.4;stroke-linecap:butt"/>
<path class="b" d="M376.8 612.5C377 611.6 379.1 609.4 379.9 609.1C380.8 608.8 384.1 609 385.3 609.6C386.6 610.2 391.4 614.4 392.5 615C393.6 615.6 395.7 616.1 396.3 615.9C396.8 615.7 397.5 613.1 397.9 612.9C398.4 612.6 400.4 612.9 400.7 613.4C401 613.9 400 616.8 400.9 617.9C401.9 619 408.9 623.3 410.1 624.5C411.3 625.6 412.9 628.3 413 629.2C413.2 630.2 412 633.6 411.4 634.3C410.8 635 407.9 636.1 407 636C406.1 636 403.2 633.8 402.2 633.5C401.2 633.2 397.8 633.1 396.9 633C396 632.9 393.7 632.8 393.1 632.3C392.6 631.8 392.1 629 391.3 628C390.4 627 386.3 623.6 385 622.6C383.6 621.6 378.9 619.2 378 618.2C377.2 617.2 376.6 613.4 376.8 612.5Z"/>
<path class="k" d="M382.4 614.6 L384.6 617.5" style="stroke:#fff;stroke-width:1.2"/>
<path class="k" d="M385.3 616.5 L387.5 619.4" style="stroke:#fff;stroke-width:1.2"/>
<path class="k" d="M388.4 618.4 L390.5 621.3" style="stroke:#fff;stroke-width:1.2"/>
<path class="k" d="M395 621.3 L402.2 627" style="stroke:#fff;stroke-width:1.6"/>
<ellipse cx="406.5" cy="629.7" rx="2.3" ry="3" fill="#fff" transform="rotate(-20 406.5 629.7)"/>
<path class="k" d="M411.4 631.8 L427.4 641.1" style="stroke-width:1.9;stroke-dasharray:6 2.4 2 2.4;stroke-linecap:butt"/>
<path class="hw" d="M427.5 595 L455 588.5 L461.5 601 L461.5 664 L466.2 668 L466.2 671 L445.2 676.2 L444.2 679 L437 679.6 L433 678 L427.5 674Z"/>
<path class="b" d="M428.4 596.8 L431.1 599 L431.1 672.2 L428.4 673.8Z" style="fill:#666;stroke:none"/>
<path class="k" d="M431.5 599 L431.5 672.2"/>
<path class="hw" d="M427.5 595 L455 588.5 L458 587.5 L462 589.5 L472 601 L472.6 604.5 L469.2 606.6 L466.2 605 L461.2 597.2 L460 593.6 L442 596.8 L431.2 599.2Z"/>
<path class="k" d="M460 593.6 L462 595.2 L462 601.5"/>
<path class="k" d="M461.2 596.2 L468 604"/>
<path class="k" d="M433 600.2C433.8 600.3 436 600.1 438 601C440 601.9 443 604.3 445 605.8C447 607.3 448.8 608.6 449.8 610C450.8 611.4 450.6 613.5 450.8 614.2" style="stroke-width:3.2"/>
<path class="h" d="M442 597.6C442.6 598 444.7 598.9 445.5 600C446.3 601.1 446.2 603.1 447 604.5C447.8 605.9 449.9 607.8 450.5 608.5"/>
<path class="h" d="M452.5 598.8 L454.2 601"/>
<ellipse cx="445.2" cy="614.2" rx="4.6" ry="4.2" fill="#000"/>
<ellipse cx="446" cy="614.4" rx="2.2" ry="1.3" fill="#999" transform="rotate(-25 446 614.4)"/>
<ellipse cx="446" cy="653" rx="4.4" ry="4.9" fill="#fff" stroke="#000" stroke-width="2.6"/>
<path class="k" d="M444.2 655C444.7 654.8 446.5 654.8 447 654C447.5 653.2 447.2 650.8 447.2 650.2"/>
<path class="h" d="M432 672.2 L438 670 L460 664.2 L462 664.2"/>
<path class="h" d="M438 672.2 L458.2 667.2"/>
<path class="k" d="M438.5 675.5 L444.8 676.2"/>
<path class="h" d="M432.5 668.2 L437.5 667.2 L437.5 670.6"/>
<path class="h" d="M455 665.8 L455 662.6 L460 662 L460.6 665"/>
<path class="k" d="M433 675 L437 677.5 L443.8 677"/>
<path class="k" d="M451.9 614.7 L473.9 627.9" style="stroke-width:1.9;stroke-dasharray:6 2.4 2 2.4;stroke-linecap:butt"/>
<path class="b" d="M473 627.4 L477.3 627.6 L497.8 638.6 L495.3 644.9 L474.5 632.3Z"/>
<circle cx="501" cy="643" r="4" fill="#777" stroke="#000" stroke-width="3.4"/>
<path class="k" d="M498.7 644.5C499.1 644.4 500.4 644.5 501 644C501.6 643.5 502.2 641.9 502.5 641.5" style="stroke:#fff;stroke-width:1.3"/>
<path class="k" d="M451.9 655.6 L473.9 668.8" style="stroke-width:1.9;stroke-dasharray:6 2.4 2 2.4;stroke-linecap:butt"/>
<path class="b" d="M473 668.3 L477.3 668.5 L497.8 679.5 L495.3 685.8 L474.5 673.2Z"/>
<circle cx="501" cy="683.9" r="4" fill="#777" stroke="#000" stroke-width="3.4"/>
<path class="k" d="M498.7 685.4C499.1 685.3 500.4 685.4 501 684.9C501.6 684.4 502.2 682.8 502.5 682.4" style="stroke:#fff;stroke-width:1.3"/>
</g>
<!-- 60_box.py -->
<g>
<path class="hw" d="M648.5 130C649.8 129.7 655.7 128.7 657.9 128.3C660.2 127.9 663.8 126.8 665.5 126.8C667.2 126.9 670.1 127.9 670.9 128.7C671.8 129.5 672.2 131.8 671.8 133C671.4 134.2 669.5 136.5 668 137.5C666.5 138.5 662.6 139.7 660.5 140.5C658.4 141.3 653.4 143 652.3 143.4"/>
<path class="h" d="M650.4 133C651.9 133 656.2 133.4 659.2 133C662.2 132.5 667.1 130.7 668.6 130.2"/>
<path class="k" d="M652.3 138.4C653.6 138.1 657.6 137.4 660.5 136.5C663.3 135.6 667.8 133.6 669.3 133"/>
<ellipse class="hw" cx="638.4" cy="139.3" rx="12.6" ry="20.1" transform="rotate(-10.5 638.4 139.3)"/>
<ellipse class="hw" cx="634.3" cy="140.3" rx="12.6" ry="20.1" transform="rotate(-10.5 634.3 140.3)"/>
<ellipse class="w" cx="632.8" cy="140.9" rx="11.1" ry="18.9" transform="rotate(-10.5 632.8 140.9)"/>
<ellipse class="w" cx="627.5" cy="142.6" rx="12" ry="19.5" transform="rotate(-10.5 627.5 142.6)"/>
<ellipse class="hw" cx="620.8" cy="144.3" rx="12.6" ry="20.4" transform="rotate(-10.5 620.8 144.3)"/>
<path class="hw" d="M793.5 200.7 L797 201.9 L796.6 205.3 L793.5 204.9Z"/>
<path class="hw" d="M755.5 204.4 L787.7 195.3 L791.6 196.1 L793.1 198.4 L793.9 206.9 L792.7 209.5 L790 211.1 L756.5 219.9Z"/>
<path class="k" d="M788.5 195.7 L790 210.7"/>
<path class="hw" d="M655.8 239.9 L658.8 241 L658.8 244.1 L656.1 242.9Z"/>
<path class="hw" d="M682.6 227.8 L661.9 233.7 L659.2 236 L658.8 238.5 L659.6 248.7 L661.1 251.4 L663.4 251.8 L682.6 246.2"/>
<path class="hw" d="M689.9 280.4 L689.9 368.6 L697.7 368.6 L697.7 280.4"/>
<path class="hw" d="M712.7 284.9 L712.7 342.5 L720.7 342.5 L720.7 284.9"/>
<path class="hw" d="M737.3 277.8 L737.3 381.1 L745.3 381.1 L745.3 277.8"/>
<path class="hw" d="M682.1 202.7 L735.3 188.9 L755.8 201.4 L757.8 272.3 L702.7 285.9 L680.6 274.1Z"/>
<path class="h" d="M682.1 202.7 L703.9 215.2 L755.8 201.4"/>
<path class="h" d="M703.9 215.2 L702.7 285.9"/>
<path class="b" d="M690.7 200.2 L692.2 195.6 L695.2 199.6Z"/>
<path class="b" d="M715.2 193.6 L716.7 189.1 L720.2 192.6Z"/>
<path class="b" d="M712.7 205.7 L727.8 201.7 L731.5 203.7 L716.5 207.7Z"/>
<circle cx="705.7" cy="204.2" r="1.3"/>
<circle cx="729" cy="198.1" r="1.3"/>
</g>
<!-- 61_cables.py -->
<g>
<path class="hw" d="M688.9 367.8 L688.9 377.9 L686.4 380.4 L686.1 399.3 L683.8 400.5 L684.1 406.8 L688.9 410 L697.1 410.6 L699.2 408.1 L700 405.6 L703 407.5 L703.4 402.4 L700.2 399.3 L700.2 380.4 L698.3 377.9 L698.3 367.8Z"/>
<path class="k" d="M688.9 371.8Q693.6 372.6 698.3 371.8"/>
<path class="k" d="M688.9 377.2Q693.6 378 698.3 377.2"/>
<path class="h" d="M686.4 384.2Q693.3 385.4 700.2 384.2"/>
<path class="h" d="M686.4 387.9Q693.3 389.2 700.2 387.9"/>
<path class="h" d="M686.4 391.7Q693.3 393 700.2 391.7"/>
<path class="h" d="M686.4 395.5Q693.3 396.8 700.2 395.5"/>
<path class="h" d="M686.1 399.3Q693.2 400.5 700.2 399.3"/>
<path class="k" d="M684.5 404.3C685.2 404.7 686.9 406.3 688.9 406.8C690.9 407.4 694.9 407.7 696.4 407.5C698 407.3 698 405.9 698.3 405.6"/>
<path class="hw" d="M714.1 342 L714.1 352.1 L710.5 353.3 L710.5 381 L713.4 382.7 L720.4 382.3 L722.6 380.4 L722.6 353.3 L719.7 352.1 L719.7 342Z"/>
<path class="h" d="M710.5 356.5Q716.6 357.5 722.6 356.5"/>
<path class="h" d="M710.5 360.9Q716.6 361.9 722.6 360.9"/>
<path class="h" d="M710.5 365.3Q716.6 366.3 722.6 365.3"/>
<path class="h" d="M710.5 369.7Q716.6 370.7 722.6 369.7"/>
<path class="b" d="M710.9 372.8 L722.2 372.8 L722.2 380.4 L720.4 381.9 L713.4 382.3 L710.9 380.6Z"/>
<path class="w" d="M716.3 375.6 L719.4 375.4 L719.4 380.1 L716.3 380.4Z" style="stroke:none"/>
<path class="k" d="M714.1 352.1Q716.9 352.7 719.7 352.1"/>
<path class="hw" d="M735.5 380.4C735.5 381.6 735.8 393.3 735.5 394.9C735.2 396.4 732.3 396.8 731.9 399.3C731.6 401.7 731.4 421.9 731.7 424.5C732 427 734.7 429 735.5 429.5C736.3 430 740.1 430.8 741.1 430.8C742.1 430.7 746.6 429.8 747.4 429.2C748.2 428.7 750.3 427 750.6 424.5C750.8 422 750.9 401.7 750.6 399.3C750.3 396.8 747.3 396.4 747 394.9C746.8 393.3 747 381.6 747 380.4"/>
<path class="k" d="M735.5 384.2Q741.3 385.7 747 384.2"/>
<path class="h" d="M735.5 381Q741.3 382.5 747 381"/>
<path class="k" d="M739 386.7 L739 393.6 L742.4 391.7 L742.4 385.2"/>
<path class="k" d="M732.3 402.4Q741.3 404.2 750.3 402.4"/>
<path class="h" d="M731.9 406.2Q741.3 408 750.6 406.2"/>
<path class="h" d="M731.9 408.7Q741.3 410.5 750.6 408.7"/>
<path class="h" d="M731.9 412.5Q741.3 414.3 750.6 412.5"/>
<path class="k" d="M731.9 414.1Q741.3 415.9 750.6 414.1"/>
</g>
<!-- 70_battery.py -->
<g>
<path class="hw" d="M556.6 522.8 L556.6 537.3 L560.1 538.2 L563.5 536.9 L563.5 521.5"/>
<path class="b" d="M522.6 507.1C521.6 507.5 522.7 520 523.2 521.5C523.7 523.1 527.9 525.3 528.9 526C529.9 526.6 533.9 529.4 535.2 529.7C536.4 530.1 542.5 530.2 544 530.1C545.5 530 549.8 529.4 552.8 528.5C555.8 527.5 578 520.1 580.5 519C583 517.9 583.1 516.4 583.3 515.3C583.5 514.1 583.7 505.5 583 505.2C582.4 504.8 578 509.8 575.5 510.8C572.9 511.9 556.2 517.3 552.8 517.8C549.4 518.2 537.7 517.4 535.2 516.5C532.7 515.6 523.6 506.6 522.6 507.1Z"/>
<path class="hw" d="M522.6 507.1C522.9 506.5 525 504.4 526.4 503.9C527.7 503.4 537.2 501.3 539 500.8C540.7 500.2 545.6 498.1 547.8 497.6C550 497.1 563.2 494.9 565.4 494.9C567.6 494.8 572.8 496.3 574.2 497C575.6 497.6 581.7 501.9 582.4 502.7C583.1 503.4 583.6 505.5 583 506.2C582.4 506.8 578 509.6 575.5 510.6C572.9 511.5 556.2 517 552.8 517.5C549.4 518 537.1 516.6 535.2 516.3C533.3 515.9 531.1 513.5 530.1 513C529.1 512.5 523.8 510.7 523.2 510.2C522.6 509.7 522.3 507.6 522.6 507.1Z"/>
<path class="k" d="M524.9 513C525.3 513.3 529.9 516.1 530.8 516.5C531.7 517 534 518.1 535.8 518.4C537.6 518.7 549.5 520.1 552.8 519.7C556.1 519.2 573.1 513.6 575.5 512.7C577.9 511.8 581.2 509.3 581.8 509" style="stroke:#fff;stroke-width:1"/>
<path class="b" d="M546.3 489.4 L549 486 L554.1 485.7 L554.1 507.1 L547.1 505.8Z"/>
<path class="hw" d="M554.1 487.6 L557.8 487.8 L562.2 492.6 L561.9 510 L554.1 507.1Z"/>
<path class="w" d="M549.7 491.3 L552.6 491.3 L552.6 502 L549.7 501.7Z" style="stroke:none"/>
<path class="k" d="M548.4 502.7 L553.4 503.4" style="stroke:#fff;stroke-width:1"/>
<ellipse cx="543.4" cy="510.8" rx="2.2" ry="1.3"/>
<ellipse cx="566.7" cy="505.2" rx="2.2" ry="1.3"/>
<path class="hw" d="M523.6 556.8 L523.8 610.3C524.9 611.1 527.8 613.8 530.1 614.8C532.4 615.9 534.7 616.6 537.6 616.6C540.5 616.6 544.9 615.8 547.6 614.8C550.3 613.9 552 611.6 553.9 610.8C555.8 610.1 556.4 610.6 558.9 610.3C561.4 610 566.2 609.8 568.9 609.1C571.6 608.4 573.8 607.1 575.2 606.1C576.6 605 576.9 603.4 577.2 602.8L576.7 551.8"/>
<path class="hw" d="M523.8 556.2C524.2 555.4 527 552.8 528.9 552C530.8 551.3 540 549.3 542.7 548.6C545.5 548 554.2 545.8 556.6 545.5C559 545.2 564.8 545.1 566.7 545.5C568.5 545.8 573.9 548.5 574.8 549.2C575.8 550 576.8 552.3 576.5 553C576.2 553.8 573.3 556 571.7 556.5C570.1 557 561.9 557.8 560.4 558.1C558.8 558.3 556.8 558.9 556 559.3C555.1 559.7 553 561.6 551.5 562.1C550.1 562.6 543.5 563.9 541.5 564C539.5 564.1 533 563.5 531.4 563.1C529.8 562.7 525.9 560.6 525.1 559.9C524.4 559.3 523.5 557 523.8 556.2Z"/>
<path class="k" d="M530.6 564 L530.6 614.8"/>
<path class="k" d="M554.6 564 L554.6 610.3"/>
<path class="k" d="M558.1 561.5 L558.1 610.3"/>
<ellipse cx="539" cy="558.1" rx="5.4" ry="2.8" fill="#fff" stroke="#000" stroke-width="1.8"/>
<ellipse cx="539" cy="558.5" rx="3" ry="1.4" fill="#aaa" stroke="#555" stroke-width="0.8"/>
<ellipse cx="561" cy="552.4" rx="5.4" ry="2.8" fill="#fff" stroke="#000" stroke-width="1.8"/>
<ellipse cx="561" cy="552.8" rx="3" ry="1.4" fill="#aaa" stroke="#555" stroke-width="0.8"/>
<path class="k" d="M518.2 670.5 L518.2 707.6" style="stroke-width:3.2"/>
<path class="k" d="M518.2 670.5 L521.6 668.6 L521.6 707"/>
<path class="hw" d="M522.6 640.3 L528.3 634.6 L536.5 632.1 L536.5 635.9 L547.2 633.4 L547.2 629.6 L555.4 627.7 L555.4 631.5 L564.2 630.8 L574.2 629.6 L580.5 631.5 L582.8 637.8 L582.8 702 L580.5 704.7 L536.5 716.5 L522.6 707.6Z"/>
<path class="k" d="M564.2 630.8 L564.2 643.4"/>
<path class="h" d="M528.3 634.6 L528.3 643.4 L532.1 644.3 L532.1 648.5 L536.5 650.4 L580.5 639 L582.8 637.8"/>
<path class="k" d="M523.9 641.5 L528.3 643.4"/>
<path class="k" d="M538.4 650.4 L538.4 715.8"/>
<ellipse cx="577" cy="630.8" rx="3.2" ry="2.6" fill="#000"/>
<path class="t" d="M551 665.5 L572.4 660.4 L572.4 672 L551 677.7Z"/>
<path class="b" d="M552.3 667.7 L570.5 663.2 L570.5 670.8 L555.1 675.5 L552.3 673.3Z"/>
</g>
<!-- 80_siphon.py -->
<g>
<path class="hw" d="M160 874.5L75 828.9C72.9 827.4 65.8 823.2 62.4 819.9C58.9 816.6 56.1 813.3 54.3 809.1C52.5 804.9 51.6 799.5 51.6 794.7C51.6 789.9 52.5 785.2 54.3 780.4C56.1 775.6 58.9 770.2 62.4 766C65.8 761.8 70.2 757.6 75 755.2C79.8 752.9 86.7 752 91.2 751.9C95.7 751.8 97.4 752.4 102 754.3C106.6 756.2 116.2 761.8 119 763.3L165 800Z"/>
<path class="hw" d="M153.2 680C151.1 676.2 152 642.7 152.3 639.3C152.6 635.9 154.3 635.7 156.8 634.8C159.3 633.9 183 627.6 185.6 627.2C188.2 626.8 191.2 628.4 191.9 629C192.6 629.6 194.3 633.6 194.6 634.8C194.9 636 195.9 644.2 196.4 645.6C196.9 647 200.8 652.6 201.8 653.7C202.8 654.8 211.6 657.3 210 660C208.4 662.7 184.3 688.5 180 690C175.7 691.5 155.3 683.8 153.2 680Z"/>
<path class="k" d="M165.5 646.5L182 641.5" style="stroke-width:6.4"/>
<path class="k" d="M165.5 646.5L182 641.5" style="stroke-width:3.4;stroke:#fff"/>
<path class="k" d="M155 647.4 L162.2 663.6 L169.4 668.1"/>
<path class="k" d="M162.2 663.6C162.4 662.9 162.4 657.1 164 656.1C165.6 655 175.6 653.4 178.4 652.8C181.3 652.2 190.5 650 192.8 650.1C195.2 650.2 200.9 653.4 201.8 653.7"/>
<path class="hw" d="M169.4 668.1C175.1 665.6 181 664.2 187.4 662.7C193.8 661.2 201.8 658.4 208.1 659.1C214.4 659.9 220 664.1 225.3 667.2C230.6 670.4 235.8 673.5 239.7 678C243.6 682.5 246.3 690.3 248.7 694.2C251.1 698.1 251.9 693.8 254.1 701.4C256.3 709 262.7 723.6 262 740C261.3 756.4 256.6 784.4 250 800C243.4 815.6 227.2 825.8 222.5 833.8C217.8 841.8 222.8 843.1 221.6 848.2C220.4 853.3 217.9 859.6 215.3 864.4C212.7 869.2 209.8 873.6 206.2 877.1C202.6 880.6 198.1 883.6 193.6 885.2C189.1 886.9 183.4 887.3 179.2 887C175 886.7 171.2 885 168.4 883.4C165.6 881.8 163.9 879.4 162.1 877.1C160.3 874.9 161.3 873.5 157.6 869.9C153.8 866.3 144.7 860.5 139.6 855.4C134.5 850.3 130.3 844.9 127 839.2C123.7 833.5 121.3 828.4 119.8 821.2C118.3 814 118 805.2 118.2 796C118.4 786.8 119.8 775.1 121 766C122.2 756.9 123.8 749.5 125.3 741.1C126.8 732.7 127.6 723.6 129.8 715.8C132.1 708 134.9 700.5 138.8 694.2C142.7 687.9 148.1 682.4 153.2 678C158.3 673.6 163.7 670.6 169.4 668.1Z"/>
<path class="k" d="M246.9 694.2C246 692.4 244.8 687.3 241.5 683.4C238.2 679.5 232.2 674.1 227.1 670.8C222 667.5 217.1 664.4 210.8 663.6C204.5 662.9 196.1 665.1 189.2 666.3C182.3 667.5 175.1 668.4 169.4 670.8C163.7 673.2 159.5 676.2 155 680.7C150.5 685.2 146 691.3 142.4 697.8C138.8 704.2 135.6 711.6 133.4 719.4C131.2 727.2 130.5 736.3 129.5 744.7C128.5 753.1 127.8 761.5 127.3 770C126.8 778.5 126.5 787.8 126.8 796C127 804.2 127.3 812.5 128.8 819.4C130.3 826.3 132.7 831.7 136 837.4C139.3 843.1 144.7 849.1 148.6 853.6C152.5 858.1 154.9 861.4 159.4 864.4C163.9 867.4 169.9 870.5 175.6 871.7C181.3 872.9 189.1 872.6 193.6 871.7C198.1 870.8 201.1 867.1 202.6 866.2"/>
<path class="k" d="M234.3 692.4C231.6 691.2 223.1 686.2 218 685.2C212.9 684.2 208.7 684.9 203.6 686.1C198.5 687.3 193.7 688 187.4 692.4C181.1 696.8 171.5 704.7 165.8 712.2C160.1 719.7 156.2 728.8 153.2 737.5C150.1 746.2 149 755.8 147.5 764.5C146 773.2 144.4 781.8 144 790C143.6 798.2 143.6 806.4 145 814C146.4 821.6 148.9 829 152.2 835.6C155.5 842.2 160 848.8 164.8 853.6C169.6 858.4 175.6 862 181 864.4C186.4 866.8 193 868.3 197.2 868C201.4 867.7 203.8 865.6 206.2 862.6C208.6 859.6 211 854.2 211.6 850C212.2 845.8 211.3 840.7 209.8 837.4C208.3 834.1 205.9 832 202.6 830.2C199.3 828.4 193.9 828.4 190 826.6C186.1 824.8 182.8 823.6 179.2 819.4C175.6 815.2 171.1 807.4 168.4 801.4C165.7 795.4 163.9 786.4 163 783.4"/>
<path class="h" d="M194.6 694.2C191 697.8 179 708 173 715.8C167 723.6 161.8 733 158.6 741.1C155.3 749.2 154.8 756.9 153.5 764.5C152.2 772.1 150.8 779 150.6 787C150.4 795 150.7 804.7 152.2 812.2C153.7 819.7 156.1 826 159.4 832C162.7 838 167.5 844 172 848.2C176.5 852.4 181.6 855.1 186.4 857.2C191.2 859.3 197.8 861.1 200.8 860.8C203.8 860.5 203.8 856.3 204.4 855.4"/>
<path class="t" d="M190 694C186.5 697.4 174.8 707 169 714.5C163.2 722 158.7 730.8 155.5 739C152.3 747.2 151.4 755.5 150 764C148.6 772.5 147.6 781.8 147.3 790C147.1 798.2 147.1 805.8 148.5 813C149.9 820.2 152.2 827.2 155.5 833.5C158.8 839.8 163.3 846 168 850.5C172.7 855 178.4 858.2 183.5 860.5C188.6 862.8 196 863.8 198.5 864.5"/>
<path class="k" d="M161.2 781.6C160.9 785.5 158.5 797.5 159.4 805C160.3 812.5 163.3 820.6 166.6 826.6C169.9 832.6 174.7 837.4 179.2 841C183.7 844.6 189.7 846.7 193.6 848.2C197.5 849.7 200.5 849.1 202.6 850C204.8 850.9 206.3 852.2 206.6 853.6C206.9 855.1 204.8 857.8 204.4 858.7"/>
<path class="k" d="M167 787C167 790.3 165.6 800.5 167 806.8C168.4 813.1 171.8 819.7 175.6 824.8C179.5 829.9 185.7 834.4 190 837.4C194.4 840.5 199.8 842.2 201.7 843.2"/>
<path class="hw" d="M231.3 683.6C226.1 683.6 218.7 685.6 213 688C207.3 690.4 202.6 693.4 197.3 697.7C192 702 185.7 708 181.1 713.9C176.5 719.8 172.5 726.8 169.7 733.3C166.9 739.8 164.9 746.3 164.1 752.8C163.3 759.3 164.2 766.2 164.9 772.2C165.6 778.2 165.9 783.4 168.1 788.5C170.2 793.6 173.8 798.7 177.8 803C181.9 807.3 187.4 811.7 192.4 814.4C197.4 817.1 202.6 818.4 208 819C213.4 819.6 218 821.2 225 818C232 814.8 242.8 809.7 250 800C257.2 790.3 265.5 774.2 268 760C270.5 745.8 267.9 725.5 265 715C262.1 704.5 254.3 701.5 250.8 697C247.3 692.5 247.2 690.2 244 688C240.8 685.8 236.5 683.6 231.3 683.6Z"/>
<path class="k" d="M250.8 705C249.7 703.4 247.5 697.6 244.3 695.3C241 693 235.9 691.3 231.3 691.2C226.7 691.1 221.9 692.4 216.7 694.4C211.6 696.5 205.7 699.6 200.5 703.4C195.4 707.1 190.3 711.9 185.9 717.1C181.6 722.4 177.4 729 174.6 735C171.8 740.9 169.8 747.7 168.9 752.8C168 757.9 169 763.6 169.1 765.8"/>
<path class="h" d="M250.8 702.6C250 701.6 249.1 697.9 245.9 696.9C242.7 695.9 236.4 695.4 231.3 696.4C226.2 697.3 220.2 699.9 215.1 702.6C210 705.2 205.1 708.5 200.5 712.3C195.9 716.1 191.3 720.1 187.6 725.2C183.8 730.4 179.9 737.9 177.8 743.1C175.7 748.2 175.4 753.9 174.9 756"/>
<path class="h" d="M155.8 760C156.4 762.7 157 770.2 159.4 776.2C161.8 782.2 166 790.3 170.2 796C174.4 801.7 179.5 806.8 184.6 810.4C189.7 814 195.4 816.1 200.8 817.6C206.2 819.1 212.3 819.4 217.1 819.4C221.9 819.4 227.6 817.9 229.7 817.6"/>
<ellipse class="hw" cx="232.2" cy="758.1" rx="48.9" ry="58.3" transform="rotate(20 232.2 758.1)"/>
<ellipse class="k" cx="233.1" cy="759.9" rx="37.8" ry="44.9" transform="rotate(20 233.1 759.9)"/>
<ellipse class="hw" cx="229" cy="757.6" rx="28.6" ry="33.3" transform="rotate(20 229 757.6)"/>
<path class="k" d="M212.8 739.2 L216.9 768"/>
<path class="k" d="M217.8 734.7 L221.8 765.3"/>
<path class="k" d="M231.3 729.3 L235.5 760.8 L216.9 768 L203.1 777.1"/>
<path class="k" d="M237.6 728.4 L240.3 744.6"/>
<path class="k" d="M240.3 729.3C241.6 731 246.7 735.2 248.1 739.2C249.4 743.3 249.6 748.8 248.4 753.6C247.3 758.4 245.1 763.7 241.2 768C237.3 772.4 230.7 777.5 225 779.8C219.3 782 210 781.3 207 781.6"/>
<path class="k" d="M235.5 760.8C234.3 762.8 231.9 769.6 228.6 772.6C225.4 775.6 219.9 778 216 778.9C212.1 779.8 207 778.1 205.2 778"/>
<path class="k" d="M251.1 735.6C251.9 738 255.8 744.6 255.6 750C255.5 755.4 253.5 762.6 250.2 768C246.9 773.5 241.5 779.3 235.8 782.5C230.1 785.6 219.3 786.2 216 787"/>
<path class="k" d="M243.2 812C244.8 811.6 249.6 809.5 252.8 809.6C256 809.7 259.5 811.1 262.4 812.8C265.3 814.5 268.3 816.9 270.4 820C272.5 823.1 274.1 826.7 275.2 831.2C276.3 835.7 276.1 841.3 276.8 847.2C277.5 853.1 278.5 861.1 279.2 866.4C279.9 871.7 280.5 877.1 280.8 879.2" style="stroke-width:2.1"/>
<path class="k" d="M242.4 816.4C244.1 816.1 249.7 813.9 252.8 814.4C255.9 814.9 258.5 816.9 260.8 819.2C263.1 821.5 265.3 824.4 266.8 828C268.3 831.6 268.9 836 269.6 840.8C270.3 845.6 270.5 851.5 271.2 856.8C271.9 862.1 273.1 868.9 273.6 872.8C274.1 876.7 274.3 878.8 274.4 880" style="stroke-width:2.1"/>
<path class="hw" d="M219.2 828 L222.4 824 L240.8 813.9 L242.9 816 L224 829.6 L221.6 831.5Z"/>
<path class="k" d="M225.6 825.6 L240 817.1" style="stroke-width:3"/>
<path class="hw" d="M270.7 879.5 L270.4 886.9 L267.5 888.8 L267.2 912.5 L266.9 929.6 L271.2 930.7 L283.5 928 L283.8 912.8 L283.2 888.8 L280 886.9 L280 879.5Z"/>
<path class="b" d="M267.2 913.6 L283.8 911.5 L283.5 928 L271.2 930.7 L266.9 929.6Z"/>
<path class="k" d="M272 918.6 L282.4 916.6" style="stroke:#fff;stroke-width:1"/>
<path class="k" d="M272 922.6 L282.4 920.6" style="stroke:#fff;stroke-width:1"/>
<path class="k" d="M272 926.6 L282.4 924.6" style="stroke:#fff;stroke-width:1"/>
<path class="k" d="M267.5 887.8 L275.2 888.5 L283.2 886.9"/>
<path class="h" d="M267.5 893.8 L275.2 894.4 L283.2 892.8"/>
<path class="k" d="M267.5 899.4 L275.2 900 L283.2 898.4"/>
<path class="h" d="M267.5 907.4 L275.2 908 L283.2 906.4"/>
<path class="k" d="M267.5 909.8 L275.2 910.4 L283.2 908.8"/>
</g>
</svg>
</body></html>
